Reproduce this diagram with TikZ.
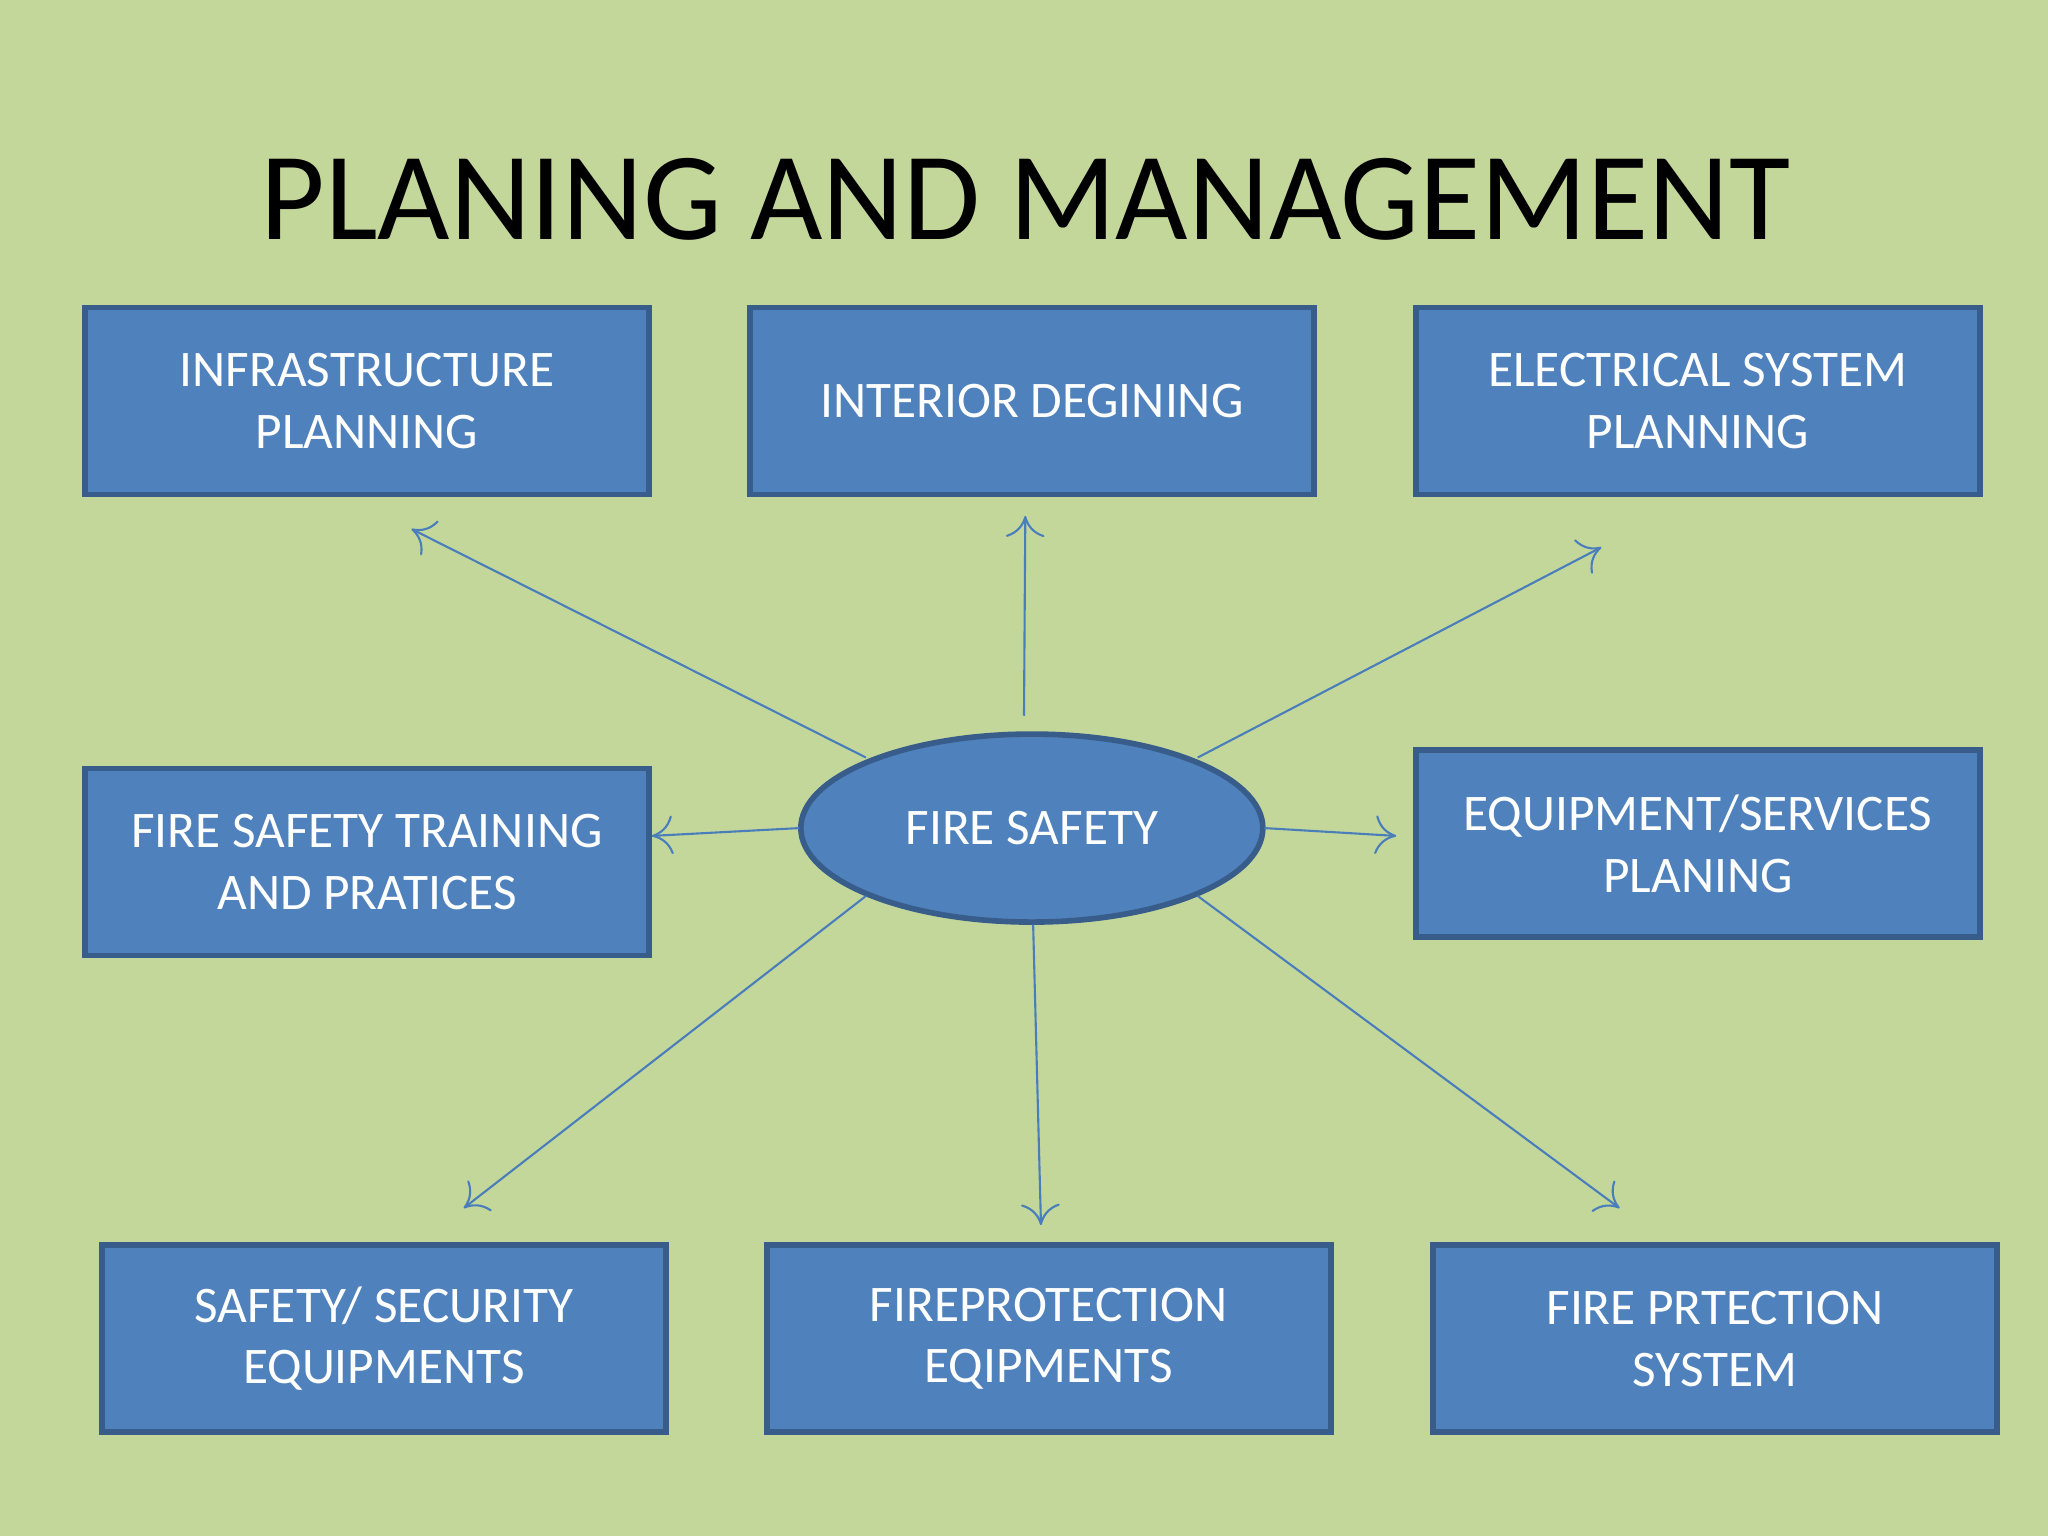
\documentclass[tikz,border=0pt]{standalone}
\usepackage{fontspec}
\setmainfont{Carlito}
\usetikzlibrary{shapes.geometric,arrows.meta}
\definecolor{slidebg}{HTML}{C4D79B}
\definecolor{boxfill}{HTML}{4F81BD}
\definecolor{boxline}{HTML}{385D8A}
\definecolor{arrline}{HTML}{4A7EBB}
\begin{document}
\begin{tikzpicture}[x=0.013061cm,y=-0.013061cm,
    planbox/.style={draw=boxline,line width=1.6pt,fill=boxfill,text=white,
        minimum width=5.64cm,minimum height=1.87cm,align=center,
        font=\fontsize{14.6}{17.5}\selectfont},
    centre/.style={ellipse,draw=boxline,line width=1.6pt,fill=boxfill,text=white,
        inner sep=0pt,minimum width=4.62cm,minimum height=1.88cm,
        font=\fontsize{14.6}{17.5}\selectfont},
    link/.style={draw=arrline,line width=0.6pt,-{To[length=6pt,width=11pt]}}]
% Background
\fill[slidebg] (0,0) rectangle (1568,1176);
% Title
\node[font=\fontsize{35.6}{40}\selectfont] (title) at (785,153) {PLANING AND MANAGEMENT};
% Boxes
\node[planbox] (infra) at (281,307) {INFRASTRUCTURE\\PLANNING};
\node[planbox] (interior) at (790,307) {INTERIOR DEGINING};
\node[planbox] (elec) at (1300,307) {ELECTRICAL SYSTEM\\PLANNING};
\node[planbox] (train) at (281,660) {FIRE SAFETY TRAINING\\AND PRATICES};
\node[planbox] (equip) at (1300,646) {EQUIPMENT/SERVICES\\PLANING};
\node[planbox] (secur) at (294,1025) {SAFETY/ SECURITY\\EQUIPMENTS};
\node[planbox] (protect) at (803,1025) {FIREPROTECTION\\EQIPMENTS};
\node[planbox] (system) at (1313,1025) {FIRE PRTECTION\\SYSTEM};
% Centre
\node[centre] (fs) at (790,634) {FIRE SAFETY};
% Arrow ends
\coordinate (e1) at (315,405);
\coordinate (e2) at (785,395);
\coordinate (e3) at (1226,419);
\coordinate (e4) at (499,640);
\coordinate (e5) at (1069,640);
\coordinate (e6) at (355,925);
\coordinate (e7) at (797,938);
\coordinate (e8) at (1240,925);
\coordinate (s1) at (663,580);
\coordinate (s2) at (784,548);
\coordinate (s3) at (917,580);
\coordinate (s4) at (612,634);
\coordinate (s5) at (968,634);
\coordinate (s6) at (663,686);
\coordinate (s7) at (791,708);
\coordinate (s8) at (917,686);
\foreach \i in {1,...,8}{
  \draw[link] (s\i) -- (e\i);
}
\end{tikzpicture}
\end{document}
